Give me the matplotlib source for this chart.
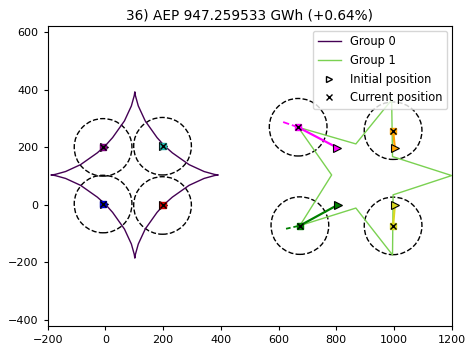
import matplotlib

matplotlib.use("Agg")
import matplotlib.pyplot as plt  # noqa: E402
from matplotlib.lines import Line2D  # noqa: E402
from matplotlib.patches import Circle  # noqa: E402


TITLE = "36) AEP 947.259533 GWh (+0.64%)"

# Group 0 boundary curve
g0_x = [-187, -174, -138, -86, -28, 0, 25, 66, 90, 100, 102,
        104, 114, 138, 179, 204, 232, 290, 342, 378, 391,
        378, 342, 290, 232, 204, 179, 138, 114, 104, 102,
        100, 90, 66, 25, 0, -28, -86, -138, -174, -187]
g0_y = [104, 106, 116, 140, 181, 206, 234, 292, 344, 380, 393,
        380, 344, 292, 234, 206, 181, 140, 116, 106, 104,
        102, 92, 68, 27, 2, -26, -84, -136, -172, -185,
        -172, -136, -84, -26, 2, 27, 68, 92, 102, 104]

# Group 1 star boundary
g1_x = [992, 995, 1200, 997, 995, 868, 674, 784, 668, 868, 992]
g1_y = [365, 168, 102, 35, -174, -11, -72, 104, 270, 212, 365]

# turbines
turb_colors = ["purple", "lightseagreen", "mediumblue", "#cc0000",
               "magenta", "orange", "green", "#d8d820"]
init_x = [-4, 200, -4, 200, 803, 1003, 805, 1003]
init_y = [200, 204, 3, 0, 199, 199, 0, 0]
cur_x = [-8, 198, -8, 198, 668, 997, 674, 997]
cur_y = [200, 204, 3, -2, 270, 258, -72, -73]
# dashed continuation (only visible for two turbines)
dash_idx = [4, 6]
dash_x = [616, 626]
dash_y = [288, -83]

RADIUS = 100

fig = plt.figure(figsize=(4.74, 3.54), dpi=100)
ax = fig.add_axes([0.1006, 0.0791, 0.8523, 0.8475])

for cx, cy in zip(cur_x, cur_y):
    ax.add_patch(Circle((cx, cy), RADIUS, fill=False, ls="--", lw=1.0,
                        ec="black", zorder=2))

ax.plot(g0_x, g0_y, color="#440154", lw=1.0, zorder=3)
ax.plot(g1_x, g1_y, color="#7ad151", lw=1.0, zorder=3)

for i, c in enumerate(turb_colors):
    ax.plot([init_x[i], cur_x[i]], [init_y[i], cur_y[i]], color=c, lw=1.6,
            zorder=4)

for k, i in enumerate(dash_idx):
    ax.plot([cur_x[i], dash_x[k]], [cur_y[i], dash_y[k]], color=turb_colors[i],
            lw=1.3, ls="--", zorder=4)

for i, c in enumerate(turb_colors):
    ax.plot(init_x[i], init_y[i], marker=">", ms=5.5, mfc=c, mec="black",
            mew=0.8, ls="none", zorder=5)
    ax.plot(cur_x[i], cur_y[i], marker="s", ms=4.5, mfc=c, mec=c, ls="none",
            zorder=5)
    ax.plot(cur_x[i], cur_y[i], marker="x", ms=4, color="black", mew=1.0,
            ls="none", zorder=6)

ax.set_xlim(-200, 1200)
ax.set_ylim(-421, 622)
ax.set_xticks([-200, 0, 200, 400, 600, 800, 1000, 1200])
ax.set_yticks([-400, -200, 0, 200, 400, 600])
ax.tick_params(labelsize=8, length=3)
ax.set_title(TITLE, fontsize=9.8, pad=5)

handles = [
    Line2D([], [], color="#440154", lw=1.0, label="Group 0"),
    Line2D([], [], color="#7ad151", lw=1.0, label="Group 1"),
    Line2D([], [], marker=">", ls="none", mfc="white", mec="black",
           ms=5, label="Initial position"),
    Line2D([], [], marker="x", ls="none", color="black", ms=5,
           label="Current position"),
]
ax.legend(handles=handles, loc="upper right", fontsize=8.3, framealpha=0.8,
          borderaxespad=0.4)

fig.savefig("out.png", dpi=100)
